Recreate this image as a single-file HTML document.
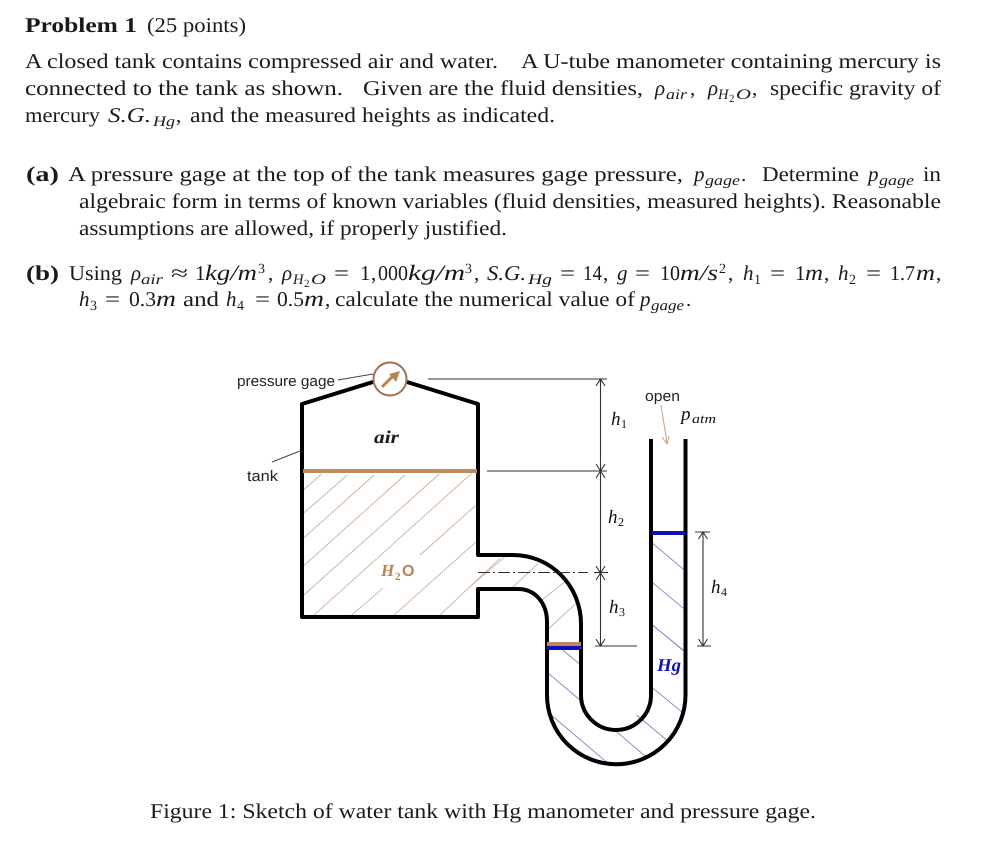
<!DOCTYPE html>
<html><head><meta charset="utf-8"><title>Problem 1</title>
<style>
html,body{margin:0;padding:0;background:#fff}
svg{display:block}
text{font-family:"Liberation Serif",serif;font-size:21px;fill:#1a1a1a}
.i{font-style:italic}
.b{font-weight:bold}
.m{font-style:italic;font-size:22px}
.s{font-size:14px}
.sn{font-size:14.500px;font-style:italic}
.sm{font-size:11px;font-style:normal}
.l{font-family:"Liberation Sans",sans-serif;font-size:15px;fill:#222}
.d{font-size:19px;font-style:italic;fill:#111}
.ds{font-size:12px;fill:#111}
.da{font-size:13px;font-style:italic;fill:#111}
</style></head><body>
<svg xmlns="http://www.w3.org/2000/svg" width="1004" height="866" viewBox="0 0 1004 866" text-rendering="geometricPrecision">
<rect width="1004" height="866" fill="#fff"/>
<text x="25" y="32" class="b" textLength="112" lengthAdjust="spacingAndGlyphs">Problem 1</text>
<text x="147" y="32" textLength="99" lengthAdjust="spacingAndGlyphs">(25 points)</text>
<text x="25" y="68" textLength="473" lengthAdjust="spacingAndGlyphs">A closed tank contains compressed air and water.</text>
<text x="521" y="68" textLength="420" lengthAdjust="spacingAndGlyphs">A U-tube manometer containing mercury is</text>
<text x="25" y="95" textLength="318" lengthAdjust="spacingAndGlyphs">connected to the tank as shown.</text>
<text x="363" y="95" textLength="280" lengthAdjust="spacingAndGlyphs">Given are the fluid densities,</text>
<text x="655" y="95" class="i">ρ</text><text x="666" y="99" class="sn" textLength="21" lengthAdjust="spacingAndGlyphs">air</text><text x="690" y="95">,</text>
<text x="708" y="95" class="i">ρ</text><text x="718" y="99" class="sn">H</text><text x="729" y="102" class="sm">2</text><text x="736" y="99" class="sn" textLength="15" lengthAdjust="spacingAndGlyphs">O</text><text x="752" y="95">,</text>
<text x="770" y="95" textLength="171" lengthAdjust="spacingAndGlyphs">specific gravity of</text>
<text x="25" y="122" textLength="75" lengthAdjust="spacingAndGlyphs">mercury</text>
<text x="108" y="122" class="i" textLength="43" lengthAdjust="spacingAndGlyphs">S.G.</text><text x="153" y="126" class="sn" textLength="22" lengthAdjust="spacingAndGlyphs">Hg</text><text x="176" y="122">,</text>
<text x="190" y="122" textLength="365" lengthAdjust="spacingAndGlyphs">and the measured heights as indicated.</text>

<text x="26" y="181" class="b" textLength="33" lengthAdjust="spacingAndGlyphs">(a)</text>
<text x="68" y="181" textLength="615" lengthAdjust="spacingAndGlyphs">A pressure gage at the top of the tank measures gage pressure,</text>
<text x="694" y="181" class="i">p</text><text x="705" y="185" class="sn" textLength="35" lengthAdjust="spacingAndGlyphs">gage</text><text x="741" y="181">.</text>
<text x="762" y="181" textLength="97" lengthAdjust="spacingAndGlyphs">Determine</text>
<text x="868" y="181" class="i">p</text><text x="879" y="185" class="sn" textLength="35" lengthAdjust="spacingAndGlyphs">gage</text>
<text x="923" y="181" textLength="18" lengthAdjust="spacingAndGlyphs">in</text>
<text x="79" y="208" textLength="862" lengthAdjust="spacingAndGlyphs">algebraic form in terms of known variables (fluid densities, measured heights). Reasonable</text>
<text x="79" y="235" textLength="428" lengthAdjust="spacingAndGlyphs">assumptions are allowed, if properly justified.</text>

<text x="26" y="280" class="b" textLength="33" lengthAdjust="spacingAndGlyphs">(b)</text>
<text x="69" y="280" textLength="53" lengthAdjust="spacingAndGlyphs">Using</text>
<text x="131" y="280" class="i">ρ</text><text x="141" y="284" class="sn" textLength="22" lengthAdjust="spacingAndGlyphs">air</text>
<text x="171" y="280" textLength="17" lengthAdjust="spacingAndGlyphs">≈</text>
<text x="195" y="280">1</text><text x="205" y="280" class="m" textLength="52" lengthAdjust="spacingAndGlyphs">kg/m</text><text x="258" y="273" class="s">3</text><text x="268" y="280">,</text>
<text x="282" y="280" class="i">ρ</text><text x="293" y="284" class="sn">H</text><text x="304" y="287" class="sm">2</text><text x="311" y="284" class="sn" textLength="15" lengthAdjust="spacingAndGlyphs">O</text>
<text x="334" y="280" textLength="15" lengthAdjust="spacingAndGlyphs">=</text>
<text x="360" y="280">1</text><text x="371" y="280">,</text><text x="378" y="280" textLength="30" lengthAdjust="spacingAndGlyphs">000</text><text x="408" y="280" class="m" textLength="57" lengthAdjust="spacingAndGlyphs">kg/m</text><text x="465" y="273" class="s">3</text><text x="474" y="280">,</text>
<text x="487" y="280" class="i" textLength="39" lengthAdjust="spacingAndGlyphs">S.G.</text><text x="528" y="284" class="sn" textLength="24" lengthAdjust="spacingAndGlyphs">Hg</text>
<text x="560" y="280" textLength="15" lengthAdjust="spacingAndGlyphs">=</text>
<text x="583" y="280" textLength="19" lengthAdjust="spacingAndGlyphs">14</text><text x="603" y="280">,</text>
<text x="617" y="280" class="i">g</text>
<text x="635" y="280" textLength="15" lengthAdjust="spacingAndGlyphs">=</text>
<text x="660" y="280" textLength="20" lengthAdjust="spacingAndGlyphs">10</text><text x="680" y="280" class="m" textLength="38" lengthAdjust="spacingAndGlyphs">m/s</text><text x="719" y="273" class="s">2</text><text x="728" y="280">,</text>
<text x="743" y="280" class="i">h</text><text x="754" y="284" class="s">1</text>
<text x="770" y="280" textLength="15" lengthAdjust="spacingAndGlyphs">=</text>
<text x="795" y="280">1</text><text x="805" y="280" class="m" textLength="18" lengthAdjust="spacingAndGlyphs">m</text><text x="824" y="280">,</text>
<text x="838" y="280" class="i">h</text><text x="849" y="284" class="s">2</text>
<text x="866" y="280" textLength="15" lengthAdjust="spacingAndGlyphs">=</text>
<text x="890" y="280" textLength="25" lengthAdjust="spacingAndGlyphs">1.7</text><text x="916" y="280" class="m" textLength="19" lengthAdjust="spacingAndGlyphs">m</text><text x="936" y="280">,</text>

<text x="79" y="306" class="i">h</text><text x="90" y="310" class="s">3</text>
<text x="105" y="306" textLength="15" lengthAdjust="spacingAndGlyphs">=</text>
<text x="129" y="306" textLength="27" lengthAdjust="spacingAndGlyphs">0.3</text><text x="156" y="306" class="m" textLength="20" lengthAdjust="spacingAndGlyphs">m</text>
<text x="183" y="306" textLength="36" lengthAdjust="spacingAndGlyphs">and</text>
<text x="226" y="306" class="i">h</text><text x="237" y="310" class="s">4</text>
<text x="255" y="306" textLength="15" lengthAdjust="spacingAndGlyphs">=</text>
<text x="277" y="306" textLength="27" lengthAdjust="spacingAndGlyphs">0.5</text><text x="304" y="306" class="m" textLength="20" lengthAdjust="spacingAndGlyphs">m</text><text x="325" y="306">,</text>
<text x="335" y="306" textLength="300" lengthAdjust="spacingAndGlyphs">calculate the numerical value of</text>
<text x="640" y="306" class="i">p</text><text x="651" y="310" class="sn" textLength="33" lengthAdjust="spacingAndGlyphs">gage</text><text x="686" y="306">.</text>

<text x="150" y="818" textLength="666" lengthAdjust="spacingAndGlyphs">Figure 1: Sketch of water tank with Hg manometer and pressure gage.</text>

<!-- water hatch -->
<g transform="translate(220 350) scale(.33333)" stroke="#cfae94" stroke-width="2.6" fill="none">
<path d="M250 420L305 372M248 492L382 375M250 565L462 375M248 650L555 375M248 738L658 372M280 797L755 370M393 797L488 715M520 797L780 565M600 615L772 462M660 795L840 625"/>
</g>
<g transform="translate(470 370) scale(.33333)" stroke="#cfae94" stroke-width="2.6" fill="none">
<path d="M0 650L105 560M125 655L205 580M210 695L285 635M232 780L318 700"/>
</g>
<!-- mercury hatch -->
<g transform="translate(470 370) scale(.33333)" stroke="#7f7fc4" stroke-width="2.6" fill="none">
<path d="M548 520L640 598M548 638L640 715M548 765L640 842"/>
</g>
<g transform="translate(530 620) scale(.33333)" stroke="#7f7fc4" stroke-width="2.6" fill="none">
<path d="M98 90L150 133M55 160L150 240M60 282L232 428M260 335L345 408M320 285L410 360M367 203L455 275M367 15L462 92"/>
</g>

<!-- tank and tube walls -->
<g fill="none" stroke="#000" stroke-width="4" stroke-linejoin="round">
<path d="M373 382L302 404V617H478V589H518C536 589 547 604 547 622V695A69.250 69.250 0 0 0 685.500 695V439"/>
<path d="M407 382L478 404V555H513C551 555 581 586 581 624V695A35 35 0 0 0 651 695V439"/>
</g>
<!-- fluid levels -->
<path d="M303 471H477M547 644H581" stroke="#bd8b62" stroke-width="4" fill="none"/>
<path d="M547 648H582M652 533H685" stroke="#1010b4" stroke-width="4" fill="none"/>

<!-- gage -->
<circle cx="390" cy="379" r="16.500" fill="#fff" stroke="#a0704e" stroke-width="2"/>
<path d="M382 387L393 376" stroke="#b98453" stroke-width="3" fill="none"/>
<path d="M400 371L389 374L396 382Z" fill="#b98453"/>

<!-- leaders -->
<path d="M338 380L373 374M272 462L300 451" stroke="#444" stroke-width="1" fill="none"/>
<path d="M661 405L667 443M662 437L667 444L669 436" stroke="#c9a180" stroke-width="1" fill="none"/>

<!-- dimensions -->
<g stroke="#333" stroke-width="1.100" fill="none">
<path d="M428 379H607M487 471H607M595 646H637M695 532H710M697 646H711"/>
<path d="M600.500 379V646M703 532V646"/>
<path d="M478 572.500H588" stroke-dasharray="12 3 2 3"/>
<path d="M594 572.500H608"/>
<path d="M596 386L600.500 379L605 386M596 464L600.500 471L605 464M596 478L600.500 471L605 478M596 566L600.500 573L605 566M596 580L600.500 573L605 580M596 639L600.500 646L605 639"/>
<path d="M698.500 539L703 532L707.500 539M698.500 639L703 646L707.500 639"/>
</g>

<!-- diagram labels -->
<text x="237" y="386" class="l" textLength="98" lengthAdjust="spacingAndGlyphs">pressure gage</text>
<text x="247" y="481" class="l" textLength="31" lengthAdjust="spacingAndGlyphs">tank</text>
<text x="645" y="401" class="l" textLength="35" lengthAdjust="spacingAndGlyphs">open</text>
<text x="374" y="443" class="b i" style="font-size:18px" textLength="25" lengthAdjust="spacingAndGlyphs">air</text>
<text x="381" y="576" class="b i" style="font-size:17px;fill:#b98453">H</text>
<text x="395" y="580" class="b" style="font-size:11px;fill:#b98453">2</text>
<text x="402" y="576" class="b" style="font-family:'Liberation Sans',sans-serif;font-size:16px;fill:#b98453">O</text>
<text x="657" y="671" class="b i" style="font-size:18px;fill:#1010b4" textLength="24" lengthAdjust="spacingAndGlyphs">Hg</text>
<text x="611" y="425" class="d">h</text><text x="621" y="428" class="ds">1</text>
<text x="608" y="523" class="d">h</text><text x="618" y="526" class="ds">2</text>
<text x="609" y="613" class="d">h</text><text x="619" y="616" class="ds">3</text>
<text x="711" y="593" class="d">h</text><text x="721" y="596" class="ds">4</text>
<text x="681" y="420" class="d">p</text><text x="692" y="423" class="da" textLength="24" lengthAdjust="spacingAndGlyphs">atm</text>
</svg>
</body></html>
